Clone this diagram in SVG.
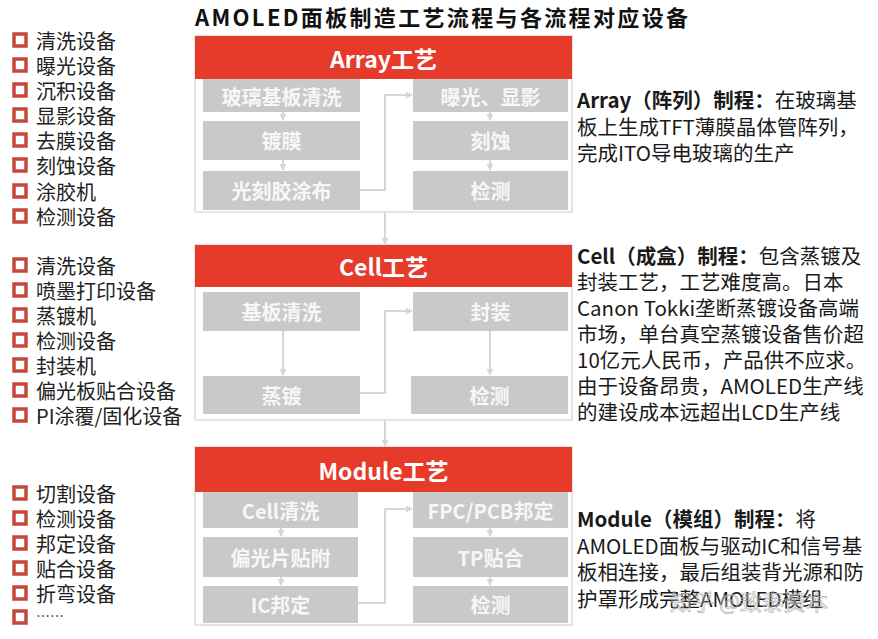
<svg xmlns="http://www.w3.org/2000/svg" width="878" height="639" viewBox="0 0 878 639">
<defs>
<marker id="ah" viewBox="0 0 8 8" refX="7" refY="4" markerWidth="7" markerHeight="7" markerUnits="userSpaceOnUse" orient="auto">
<path d="M0,0 L8,4 L0,8 z" fill="#d6d6d6"/>
</marker>
<style>
text{font-family:"Noto Sans CJK SC","Noto Sans",sans-serif;}
.title{font-size:22px;font-weight:bold;fill:#111;}
.frame{fill:#fff;stroke:#e4e4e4;stroke-width:2;}
.hdr{fill:#e63a2b;}
.hdrt{font-size:23px;font-weight:bold;fill:#fff;text-anchor:middle;dominant-baseline:central;}
.box{fill:#c9c9c9;}
.bt{font-size:20px;font-weight:bold;fill:#f7f7f7;text-anchor:middle;dominant-baseline:central;}
.conn{fill:none;stroke:#d6d6d6;stroke-width:2;}
.sq{fill:#fff;stroke:#c8473b;stroke-width:3.5;}
.li{font-size:20px;fill:#222;dominant-baseline:central;}
.desc{font-size:20.5px;fill:#1a1a1a;}
.b{font-weight:bold;}
.wm{font-size:22px;fill:none;stroke:#b0b0b0;stroke-width:0.7;}
</style>
</defs>
<rect width="878" height="639" fill="#fff"/>
<text class="title" x="195" y="26" textLength="493" lengthAdjust="spacing">AMOLED面板制造工艺流程与各流程对应设备</text>

<!-- left equipment lists -->
<g id="list-array">
<rect class="sq" x="14" y="34" width="12" height="12"/><text class="li" x="36" y="40">清洗设备</text>
<rect class="sq" x="14" y="59" width="12" height="12"/><text class="li" x="36" y="65">曝光设备</text>
<rect class="sq" x="14" y="84" width="12" height="12"/><text class="li" x="36" y="90">沉积设备</text>
<rect class="sq" x="14" y="109" width="12" height="12"/><text class="li" x="36" y="115">显影设备</text>
<rect class="sq" x="14" y="134" width="12" height="12"/><text class="li" x="36" y="140">去膜设备</text>
<rect class="sq" x="14" y="159" width="12" height="12"/><text class="li" x="36" y="165">刻蚀设备</text>
<rect class="sq" x="14" y="185" width="12" height="12"/><text class="li" x="36" y="191">涂胶机</text>
<rect class="sq" x="14" y="210" width="12" height="12"/><text class="li" x="36" y="216">检测设备</text>
</g>
<g id="list-cell">
<rect class="sq" x="14" y="259" width="12" height="12"/><text class="li" x="36" y="265">清洗设备</text>
<rect class="sq" x="14" y="284" width="12" height="12"/><text class="li" x="36" y="290">喷墨打印设备</text>
<rect class="sq" x="14" y="309" width="12" height="12"/><text class="li" x="36" y="315">蒸镀机</text>
<rect class="sq" x="14" y="334" width="12" height="12"/><text class="li" x="36" y="340">检测设备</text>
<rect class="sq" x="14" y="359" width="12" height="12"/><text class="li" x="36" y="365">封装机</text>
<rect class="sq" x="14" y="384" width="12" height="12"/><text class="li" x="36" y="390">偏光板贴合设备</text>
<rect class="sq" x="14" y="409" width="12" height="12"/><text class="li" x="36" y="415">PI涂覆/固化设备</text>
</g>
<g id="list-module">
<rect class="sq" x="14" y="487" width="12" height="12"/><text class="li" x="36" y="493">切割设备</text>
<rect class="sq" x="14" y="512" width="12" height="12"/><text class="li" x="36" y="518">检测设备</text>
<rect class="sq" x="14" y="537" width="12" height="12"/><text class="li" x="36" y="543">邦定设备</text>
<rect class="sq" x="14" y="562" width="12" height="12"/><text class="li" x="36" y="568">贴合设备</text>
<rect class="sq" x="14" y="587" width="12" height="12"/><text class="li" x="36" y="593">折弯设备</text>
<rect class="sq" x="14" y="611" width="12" height="12"/><text class="li" x="36" y="615" style="font-size:14px">……</text>
</g>

<!-- section frames and headers -->
<g id="array-stage">
<rect class="frame" x="195" y="36" width="377" height="176"/>
<rect class="hdr" x="195" y="36" width="377" height="43"/>
<text class="hdrt" x="383.5" y="57.5">Array工艺</text>
</g>
<g id="cell-stage">
<rect class="frame" x="195" y="245" width="377" height="175"/>
<rect class="hdr" x="195" y="245" width="377" height="42"/>
<text class="hdrt" x="383.5" y="266">Cell工艺</text>
</g>
<g id="module-stage">
<rect class="frame" x="195" y="447" width="377" height="178"/>
<rect class="hdr" x="195" y="447" width="377" height="45"/>
<text class="hdrt" x="383.5" y="469.5">Module工艺</text>
</g>

<!-- Array nodes -->
<g id="a1"><rect class="box" x="203" y="79" width="157" height="33"/><text class="bt" x="281.5" y="96">玻璃基板清洗</text></g>
<g id="a2"><rect class="box" x="203" y="121" width="157" height="39"/><text class="bt" x="281.5" y="140.5">镀膜</text></g>
<g id="a3"><rect class="box" x="203" y="171" width="157" height="39"/><text class="bt" x="281.5" y="190.5">光刻胶涂布</text></g>
<g id="a4"><rect class="box" x="413" y="79" width="155" height="33"/><text class="bt" x="490.5" y="96">曝光、显影</text></g>
<g id="a5"><rect class="box" x="413" y="121" width="155" height="39"/><text class="bt" x="490.5" y="140.5">刻蚀</text></g>
<g id="a6"><rect class="box" x="413" y="171" width="155" height="39"/><text class="bt" x="490.5" y="190.5">检测</text></g>

<!-- Cell nodes -->
<g id="c1"><rect class="box" x="203" y="292" width="157" height="39"/><text class="bt" x="281.5" y="311.5">基板清洗</text></g>
<g id="c2"><rect class="box" x="203" y="376" width="157" height="38"/><text class="bt" x="281.5" y="395">蒸镀</text></g>
<g id="c3"><rect class="box" x="413" y="292" width="155" height="39"/><text class="bt" x="490.5" y="311.5">封装</text></g>
<g id="c4"><rect class="box" x="411" y="376" width="157" height="38"/><text class="bt" x="489.5" y="395">检测</text></g>

<!-- Module nodes -->
<g id="m1"><rect class="box" x="203" y="492" width="155" height="36"/><text class="bt" x="280.5" y="510">Cell清洗</text></g>
<g id="m2"><rect class="box" x="203" y="537" width="155" height="40"/><text class="bt" x="280.5" y="557">偏光片贴附</text></g>
<g id="m3"><rect class="box" x="203" y="586" width="155" height="37"/><text class="bt" x="280.5" y="604.5">IC邦定</text></g>
<g id="m4"><rect class="box" x="413" y="492" width="155" height="36"/><text class="bt" x="490.5" y="510">FPC/PCB邦定</text></g>
<g id="m5"><rect class="box" x="413" y="537" width="155" height="40"/><text class="bt" x="490.5" y="557">TP贴合</text></g>
<g id="m6"><rect class="box" x="413" y="586" width="155" height="37"/><text class="bt" x="490.5" y="604.5">检测</text></g>

<!-- connectors -->
<g id="connectors">
<path class="conn" d="M283,112 L283,120" marker-end="url(#ah)"/>
<path class="conn" d="M283,160 L283,170" marker-end="url(#ah)"/>
<path class="conn" d="M360,190 L385,190 L385,95 L412,95" marker-end="url(#ah)"/>
<path class="conn" d="M490,112 L490,120" marker-end="url(#ah)"/>
<path class="conn" d="M490,160 L490,170" marker-end="url(#ah)"/>
<path class="conn" d="M385,212 L385,244" marker-end="url(#ah)"/>
<path class="conn" d="M283,331 L283,375" marker-end="url(#ah)"/>
<path class="conn" d="M360,393 L385,393 L385,311 L412,311" marker-end="url(#ah)"/>
<path class="conn" d="M490,331 L490,375" marker-end="url(#ah)"/>
<path class="conn" d="M385,420 L385,446" marker-end="url(#ah)"/>
<path class="conn" d="M281,528 L281,536" marker-end="url(#ah)"/>
<path class="conn" d="M281,577 L281,585" marker-end="url(#ah)"/>
<path class="conn" d="M358,603 L385,603 L385,509 L412,509" marker-end="url(#ah)"/>
<path class="conn" d="M490,528 L490,536" marker-end="url(#ah)"/>
<path class="conn" d="M490,577 L490,585" marker-end="url(#ah)"/>
</g>

<!-- descriptions -->
<g id="desc-array">
<text class="desc" x="577" y="108"><tspan class="b">Array（阵列）制程：</tspan>在玻璃基</text>
<text class="desc" x="577" y="135">板上生成TFT薄膜晶体管阵列，</text>
<text class="desc" x="577" y="161">完成ITO导电玻璃的生产</text>
</g>
<g id="desc-cell">
<text class="desc" x="577" y="264"><tspan class="b">Cell（成盒）制程：</tspan>包含蒸镀及</text>
<text class="desc" x="577" y="290">封装工艺，工艺难度高。日本</text>
<text class="desc" x="577" y="316">Canon Tokki垄断蒸镀设备高端</text>
<text class="desc" x="577" y="342">市场，单台真空蒸镀设备售价超</text>
<text class="desc" x="577" y="368">10亿元人民币，产品供不应求。</text>
<text class="desc" x="577" y="394">由于设备昂贵，AMOLED生产线</text>
<text class="desc" x="577" y="420">的建设成本远超出LCD生产线</text>
</g>
<g id="desc-module">
<text class="desc" x="577" y="527"><tspan class="b">Module（模组）制程：</tspan>将</text>
<text class="desc" x="577" y="554">AMOLED面板与驱动IC和信号基</text>
<text class="desc" x="577" y="580">板相连接，最后组装背光源和防</text>
<text class="desc" x="577" y="607">护罩形成完整AMOLED模组</text>
</g>
<text class="wm" x="670" y="610">知乎 @致泰资本</text>
</svg>
